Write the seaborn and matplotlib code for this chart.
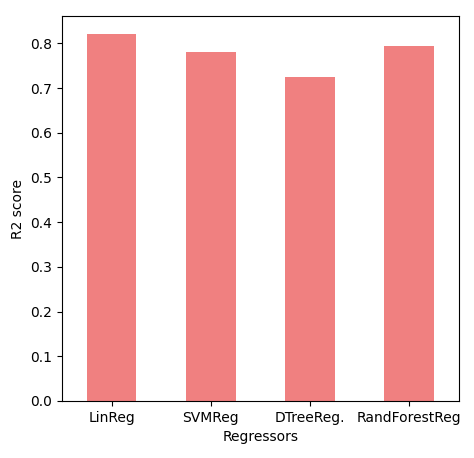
import matplotlib
matplotlib.use('Agg')
import matplotlib.pyplot as plt
import seaborn as sns
import pandas as pd

regressors = ['LinReg', 'SVMReg', 'DTreeReg.', 'RandForestReg']
r2_scores = [0.820, 0.781, 0.724, 0.794]

df = pd.DataFrame({'Regressors': regressors, 'R2 score': r2_scores})

fig = plt.figure(figsize=(4.74, 4.58), dpi=100)
ax = fig.add_axes([0.131, 0.1245, 0.837, 0.8405])
sns.barplot(data=df, x='Regressors', y='R2 score', color='lightcoral',
            saturation=1, width=0.5, ax=ax)
ax.set_xlim(-0.5, 3.5)
ax.set_ylim(0, 0.861)
ax.set_xlabel('Regressors')
ax.set_ylabel('R2 score')

plt.savefig('out.png', dpi=100)
